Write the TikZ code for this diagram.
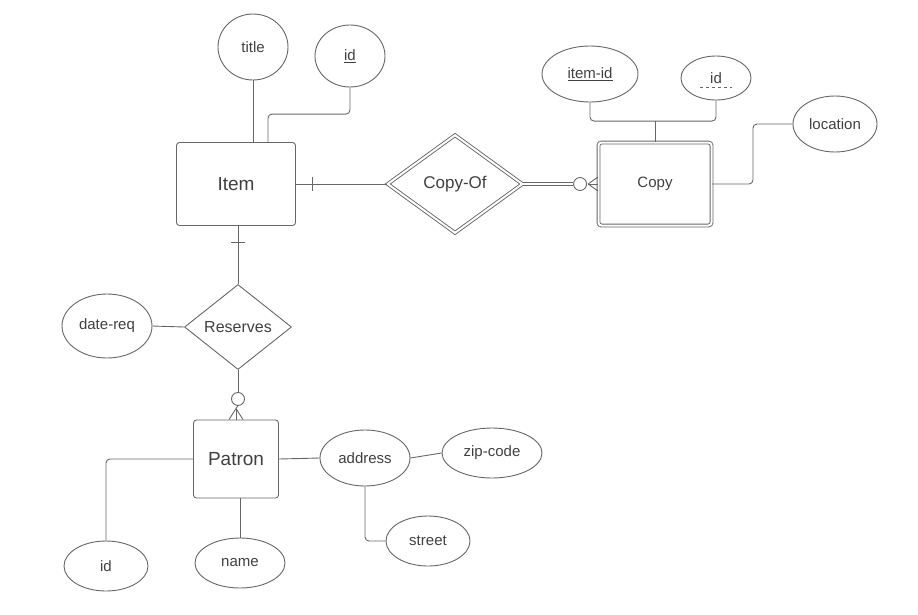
\documentclass[tikz,border=0pt]{standalone}
\usepackage{fontspec}
\setmainfont{Liberation Sans}
\usetikzlibrary{shapes,positioning,calc}

\begin{document}
\begin{tikzpicture}[x=1pt,y=-1pt,
		line/.style={draw=gray!80!black, line width=0.9pt},
		ent/.style={rectangle, rounded corners=3pt, line, text=black!75, font=\fontsize{19}{22}\selectfont},
		attr/.style={ellipse, line, inner sep=0pt, text=black!75, font=\fontsize{15}{18}\selectfont},
		rel/.style={diamond, aspect=1.35, line, inner sep=0pt, text=black!75, font=\fontsize{17}{20}\selectfont}]
	\useasboundingbox (0,0) rectangle (918,614);

	\node[ent, minimum width=119, minimum height=83] (Item) at (236, 184) {Item};
	\node[attr, minimum width=70, minimum height=66] (title) at (253, 47) {title};
	\node[attr, minimum width=70, minimum height=62] (itemid) at (350, 56) {\underline{id}};

	\node[rel, minimum width=135, minimum height=98, double, double distance=2pt] (CopyOf) at (455, 184) {Copy-Of};
	\node[ent, minimum width=113, minimum height=83, double, double distance=2pt, font=\fontsize{15}{18}\selectfont] (Copy) at (655, 184) {Copy};
	\node[attr, minimum width=96, minimum height=56] (copyitem) at (590, 74) {\underline{item-id}};
	\node[attr, minimum width=70, minimum height=44] (copyid) at (716, 78) {id};
	\node[attr, minimum width=84, minimum height=56] (location) at (835, 124) {location};

	\node[rel, minimum width=107, minimum height=85, font=\fontsize{16}{19}\selectfont] (Reserves) at (238, 327) {Reserves};
	\node[attr, minimum width=90, minimum height=64] (datereq) at (107, 326) {date-req};

	\node[ent, minimum width=85, minimum height=78] (Patron) at (236, 459) {Patron};
	\node[attr, minimum width=90, minimum height=56] (address) at (365, 458) {address};
	\node[attr, minimum width=100, minimum height=50] (zip) at (492, 453) {zip-code};
	\node[attr, minimum width=84, minimum height=50] (street) at (428, 541) {street};
	\node[attr, minimum width=84, minimum height=50] (patronid) at (106, 566) {id};
	\node[attr, minimum width=90, minimum height=50] (name) at (240, 563) {name};

	% dashed key mark under the weak id
	\draw[line, dashed, line width=0.6pt] ($(copyid.center)+(-16,9)$) -- ($(copyid.center)+(16,9)$);

	% attributes of Item
	\draw[line] (title.south) -- (title.south |- Item.north);
	\draw[line, rounded corners=4pt] (itemid.south) |- ($(Item.north)+(32,-28)$) -- ($(Item.north)+(32,0)$);

	% attributes of Copy
	\draw[line, rounded corners=4pt] (copyitem.south) |- ($(Copy.north)+(0,-21)$);
	\draw[line, rounded corners=4pt] (copyid.south) |- ($(Copy.north)+(0,-21)$);
	\draw[line] ($(Copy.north)+(0,-21)$) -- (Copy.north);
	\draw[line, rounded corners=4pt] (location.west) -| ($(Copy.east)+(41,0)$) -- (Copy.east);

	% Item -- Copy-Of -- Copy
	\draw[line] (Item.east) -- (CopyOf.west);
	\draw[line] ($(Item.east)+(16,-7)$) -- ($(Item.east)+(16,7)$);
	\draw[line, double, double distance=2.5pt] (CopyOf.east) -- ($(Copy.west)+(-25,0)$);
	\draw[line, fill=white] ($(Copy.west)+(-18,0)$) circle (6.5);
	\draw[line] ($(Copy.west)+(-10,0)$) -- ($(Copy.west)+(0,-7)$);
	\draw[line] ($(Copy.west)+(-10,0)$) -- (Copy.west);
	\draw[line] ($(Copy.west)+(-10,0)$) -- ($(Copy.west)+(0,7)$);

	% Item -- Reserves -- Patron
	\draw[line] (Item.south -| Reserves.north) -- (Reserves.north);
	\draw[line] ($(Item.south -| Reserves.north)+(-7,16)$) -- ($(Item.south -| Reserves.north)+(7,16)$);
	\draw[line] (Reserves.west) -- (datereq.east);
	\draw[line] (Reserves.south) -- ($(Reserves.south)+(0,22)$);
	\draw[line, fill=white] ($(Reserves.south)+(0,29)$) circle (6.5);
	\draw[line] ($(Patron.north)+(0,-11)$) -- ($(Patron.north)+(-7,0)$);
	\draw[line] ($(Patron.north)+(0,-11)$) -- (Patron.north);
	\draw[line] ($(Patron.north)+(0,-11)$) -- ($(Patron.north)+(7,0)$);
	\draw[line] ($(Reserves.south)+(0,35.5)$) -- ($(Patron.north)+(0,-11)$);

	% attributes of Patron
	\draw[line] (Patron.east) -- (address.west);
	\draw[line] (address.east) -- (zip.west);
	\draw[line, rounded corners=4pt] (address.south) |- (street.west);
	\draw[line, rounded corners=4pt] (patronid.north) |- (Patron.west);
	\draw[line] (name.north) -- (name.north |- Patron.south);
\end{tikzpicture}
\end{document}
